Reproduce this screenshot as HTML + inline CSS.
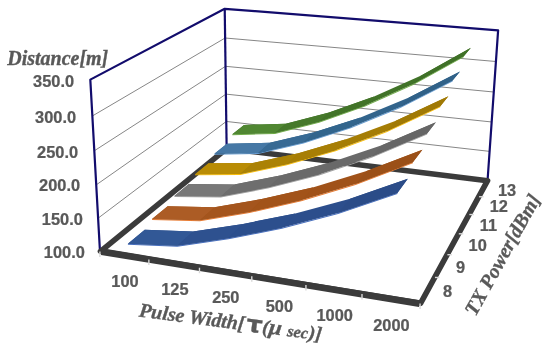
<!DOCTYPE html>
<html><head><meta charset="utf-8"><style>
html,body{margin:0;padding:0;background:#fff}
#c{position:relative;width:550px;height:352px;overflow:hidden;background:#fff}

</style></head><body><div id="c">
<svg width="550" height="352" viewBox="0 0 550 352" style="position:absolute;left:0;top:0;filter:blur(0.35px)">
<polyline points="98.06,218.22 226.27,121.45 489.60,151.37" fill="none" stroke="#868686" stroke-width="1"/>
<polyline points="96.19,184.90 225.89,94.12 491.67,121.98" fill="none" stroke="#868686" stroke-width="1"/>
<polyline points="94.27,150.84 225.51,66.31 493.78,92.03" fill="none" stroke="#868686" stroke-width="1"/>
<polyline points="92.31,116.02 225.11,38.01 495.93,61.51" fill="none" stroke="#868686" stroke-width="1"/>
<polyline points="99.90,250.04 90.31,79.62 224.72,8.80 498.12,30.39 487.57,180.22" fill="none" stroke="#120c6c" stroke-width="2.2" stroke-linejoin="round"/>
<polyline points="224.72,8.80 226.64,147.92" fill="none" stroke="#120c6c" stroke-width="2.2" stroke-linejoin="round"/>
<polygon points="100.49,251.33 420.51,303.33 487.55,180.71 226.91,148.44" fill="none" stroke="#3b3b3b" stroke-width="5.6" stroke-linejoin="round"/>
<line x1="101.49" y1="251.63" x2="419.51" y2="303.63" stroke="#3b3b3b" stroke-width="6.6"/>
<line x1="99.90" y1="251.53" x2="99.90" y2="257.03" stroke="#d8d8d8" stroke-width="1.4"/>
<line x1="148.86" y1="259.49" x2="148.86" y2="264.99" stroke="#d8d8d8" stroke-width="1.4"/>
<line x1="199.47" y1="267.71" x2="199.47" y2="273.21" stroke="#d8d8d8" stroke-width="1.4"/>
<line x1="251.79" y1="276.22" x2="251.79" y2="281.72" stroke="#d8d8d8" stroke-width="1.4"/>
<line x1="305.94" y1="285.01" x2="305.94" y2="290.51" stroke="#d8d8d8" stroke-width="1.4"/>
<line x1="361.99" y1="294.12" x2="361.99" y2="299.62" stroke="#d8d8d8" stroke-width="1.4"/>
<line x1="420.06" y1="303.56" x2="420.06" y2="309.06" stroke="#d8d8d8" stroke-width="1.4"/>
<line x1="434.94" y1="277.48" x2="439.44" y2="277.48" stroke="#d8d8d8" stroke-width="1.4"/>
<line x1="447.39" y1="254.71" x2="451.89" y2="254.71" stroke="#d8d8d8" stroke-width="1.4"/>
<line x1="458.82" y1="233.81" x2="463.32" y2="233.81" stroke="#d8d8d8" stroke-width="1.4"/>
<line x1="469.35" y1="214.54" x2="473.85" y2="214.54" stroke="#d8d8d8" stroke-width="1.4"/>
<line x1="479.09" y1="196.74" x2="483.59" y2="196.74" stroke="#d8d8d8" stroke-width="1.4"/>
<polygon points="232.36,134.17 274.96,132.94 319.07,121.73 365.05,105.47 413.22,84.08 463.99,55.93 463.99,56.93 413.22,85.08 365.05,106.47 319.07,122.73 274.96,133.94 232.36,135.17" fill="#70ad47"/>
<polygon points="232.36,134.17 274.96,132.94 319.07,121.73 365.05,105.47 413.22,84.08 463.99,55.93 470.87,47.82 421.21,75.45 374.07,96.50 329.02,112.55 285.77,123.66 244.01,125.00" fill="#417328"/>
<polygon points="232.36,134.17 244.01,125.00 285.77,123.66 274.96,132.94" fill="#508732"/>
<polygon points="274.96,132.94 285.77,123.66 329.02,112.55 319.07,121.73" fill="#46792b"/>
<polygon points="319.07,121.73 329.02,112.55 374.07,96.50 365.05,105.47" fill="#427428"/>
<polygon points="413.22,84.08 421.21,75.45 470.87,47.82 463.99,55.93" fill="#3f7027"/>
<polygon points="214.39,153.63 258.19,152.93 303.54,142.39 350.83,127.22 400.36,107.10 452.57,80.56 452.57,81.56 400.36,108.10 350.83,128.22 303.54,143.39 258.19,153.93 214.39,154.63" fill="#649bd2"/>
<polygon points="214.39,153.63 258.19,152.93 303.54,142.39 350.83,127.22 400.36,107.10 452.57,80.56 460.00,71.49 408.97,97.56 360.52,117.38 314.22,132.37 269.78,142.84 226.86,143.68" fill="#32648c"/>
<polygon points="214.39,153.63 226.86,143.68 269.78,142.84 258.19,152.93" fill="#4678a5"/>
<polygon points="258.19,152.93 269.78,142.84 314.22,132.37 303.54,142.39" fill="#386a94"/>
<polygon points="303.54,142.39 314.22,132.37 360.52,117.38 350.83,127.22" fill="#32658d"/>
<polygon points="400.36,107.10 408.97,97.56 460.00,71.49 452.57,80.56" fill="#306188"/>
<polygon points="195.12,174.15 240.20,174.04 286.87,164.21 335.54,150.16 386.55,131.30 440.32,106.35 440.32,107.35 386.55,132.30 335.54,151.16 286.87,165.21 240.20,175.04 195.12,175.15" fill="#fabe0a"/>
<polygon points="195.12,174.15 240.20,174.04 286.87,164.21 335.54,150.16 386.55,131.30 440.32,106.35 448.36,96.24 395.86,120.76 345.99,139.35 298.37,153.26 252.66,163.05 208.51,163.34" fill="#a57d05"/>
<polygon points="195.12,174.15 208.51,163.34 252.66,163.05 240.20,174.04" fill="#b98c05"/>
<polygon points="240.20,174.04 252.66,163.05 298.37,153.26 286.87,164.21" fill="#ab8205"/>
<polygon points="286.87,164.21 298.37,153.26 345.99,139.35 335.54,150.16" fill="#a77e05"/>
<polygon points="386.55,131.30 395.86,120.76 448.36,96.24 440.32,106.35" fill="#a07905"/>
<polygon points="174.39,195.89 220.84,196.42 268.91,187.35 319.08,174.44 371.68,156.87 427.13,133.53 427.13,134.53 371.68,157.87 319.08,175.44 268.91,188.35 220.84,197.42 174.39,196.89" fill="#a0a0a0"/>
<polygon points="174.39,195.89 220.84,196.42 268.91,187.35 319.08,174.44 371.68,156.87 427.13,133.53 435.86,122.23 381.76,145.20 330.38,162.55 281.32,175.36 234.28,184.43 188.82,184.12" fill="#696969"/>
<polygon points="174.39,195.89 188.82,184.12 234.28,184.43 220.84,196.42" fill="#787878"/>
<polygon points="220.84,196.42 234.28,184.43 281.32,175.36 268.91,187.35" fill="#6e6e6e"/>
<polygon points="268.91,187.35 281.32,175.36 330.38,162.55 319.08,174.44" fill="#6a6a6a"/>
<polygon points="371.68,156.87 381.76,145.20 435.86,122.23 427.13,133.53" fill="#666666"/>
<polygon points="152.05,219.03 199.94,220.25 249.51,211.99 301.28,200.27 355.59,184.03 412.87,162.30 412.87,163.30 355.59,185.03 301.28,201.27 249.51,212.99 199.94,221.25 152.05,220.03" fill="#e87a30"/>
<polygon points="152.05,219.03 199.94,220.25 249.51,211.99 301.28,200.27 355.59,184.03 412.87,162.30 422.39,149.68 366.55,171.09 313.54,187.17 262.95,198.85 214.47,207.15 167.62,206.18" fill="#a05219"/>
<polygon points="152.05,219.03 167.62,206.18 214.47,207.15 199.94,220.25" fill="#ac5c25"/>
<polygon points="199.94,220.25 214.47,207.15 262.95,198.85 249.51,211.99" fill="#a4551d"/>
<polygon points="249.51,211.99 262.95,198.85 313.54,187.17 301.28,200.27" fill="#a25319"/>
<polygon points="355.59,184.03 366.55,171.09 422.39,149.68 412.87,162.30" fill="#9b5018"/>
<polygon points="127.88,243.74 177.31,245.74 228.48,238.36 281.97,227.87 338.13,213.02 397.39,192.95 397.39,193.95 338.13,214.02 281.97,228.87 228.48,239.36 177.31,246.74 127.88,244.74" fill="#466ebe"/>
<polygon points="127.88,243.74 177.31,245.74 228.48,238.36 281.97,227.87 338.13,213.02 397.39,192.95 407.80,178.84 350.08,198.66 295.32,213.41 243.09,223.91 193.07,231.38 144.75,229.70" fill="#2c4e8c"/>
<polygon points="127.88,243.74 144.75,229.70 193.07,231.38 177.31,245.74" fill="#325896"/>
<polygon points="177.31,245.74 193.07,231.38 243.09,223.91 228.48,238.36" fill="#2e518f"/>
<polygon points="228.48,238.36 243.09,223.91 295.32,213.41 281.97,227.87" fill="#2c4f8d"/>
<polygon points="338.13,213.02 350.08,198.66 407.80,178.84 397.39,192.95" fill="#2b4c88"/>
<text transform="translate(53.6 87.1) scale(1.0 0.97)" font-family="Liberation Sans, sans-serif" font-weight="bold" font-size="16.4" fill="#595959" stroke="#595959" stroke-width="0.25" text-anchor="middle">350.0</text>
<text transform="translate(55.6 123.3) scale(1.0 0.97)" font-family="Liberation Sans, sans-serif" font-weight="bold" font-size="16.4" fill="#595959" stroke="#595959" stroke-width="0.25" text-anchor="middle">300.0</text>
<text transform="translate(57.6 158.2) scale(1.0 0.97)" font-family="Liberation Sans, sans-serif" font-weight="bold" font-size="16.4" fill="#595959" stroke="#595959" stroke-width="0.25" text-anchor="middle">250.0</text>
<text transform="translate(59.6 191.2) scale(1.0 0.97)" font-family="Liberation Sans, sans-serif" font-weight="bold" font-size="16.4" fill="#595959" stroke="#595959" stroke-width="0.25" text-anchor="middle">200.0</text>
<text transform="translate(62.3 225.2) scale(1.0 0.97)" font-family="Liberation Sans, sans-serif" font-weight="bold" font-size="16.4" fill="#595959" stroke="#595959" stroke-width="0.25" text-anchor="middle">150.0</text>
<text transform="translate(64.3 257.8) scale(1.0 0.97)" font-family="Liberation Sans, sans-serif" font-weight="bold" font-size="16.4" fill="#595959" stroke="#595959" stroke-width="0.25" text-anchor="middle">100.0</text>
<text transform="translate(125 286.5) scale(1.0 0.97)" font-family="Liberation Sans, sans-serif" font-weight="bold" font-size="16.4" fill="#595959" stroke="#595959" stroke-width="0.25" text-anchor="middle">100</text>
<text transform="translate(174.9 294.6) scale(1.0 0.97)" font-family="Liberation Sans, sans-serif" font-weight="bold" font-size="16.4" fill="#595959" stroke="#595959" stroke-width="0.25" text-anchor="middle">125</text>
<text transform="translate(225.8 303.3) scale(1.0 0.97)" font-family="Liberation Sans, sans-serif" font-weight="bold" font-size="16.4" fill="#595959" stroke="#595959" stroke-width="0.25" text-anchor="middle">250</text>
<text transform="translate(279.4 311.5) scale(1.0 0.97)" font-family="Liberation Sans, sans-serif" font-weight="bold" font-size="16.4" fill="#595959" stroke="#595959" stroke-width="0.25" text-anchor="middle">500</text>
<text transform="translate(334.7 321.4) scale(1.0 0.97)" font-family="Liberation Sans, sans-serif" font-weight="bold" font-size="16.4" fill="#595959" stroke="#595959" stroke-width="0.25" text-anchor="middle">1000</text>
<text transform="translate(391.4 330.7) scale(1.0 0.97)" font-family="Liberation Sans, sans-serif" font-weight="bold" font-size="16.4" fill="#595959" stroke="#595959" stroke-width="0.25" text-anchor="middle">2000</text>
<text transform="translate(447.5 297.0) scale(1.0 0.97)" font-family="Liberation Sans, sans-serif" font-weight="bold" font-size="16.4" fill="#595959" stroke="#595959" stroke-width="0.25" text-anchor="middle">8</text>
<text transform="translate(460.6 272.9) scale(1.0 0.97)" font-family="Liberation Sans, sans-serif" font-weight="bold" font-size="16.4" fill="#595959" stroke="#595959" stroke-width="0.25" text-anchor="middle">9</text>
<text transform="translate(477.7 250.8) scale(1.0 0.97)" font-family="Liberation Sans, sans-serif" font-weight="bold" font-size="16.4" fill="#595959" stroke="#595959" stroke-width="0.25" text-anchor="middle">10</text>
<text transform="translate(488.5 231.0) scale(1.0 0.97)" font-family="Liberation Sans, sans-serif" font-weight="bold" font-size="16.4" fill="#595959" stroke="#595959" stroke-width="0.25" text-anchor="middle">11</text>
<text transform="translate(498.8 211.9) scale(1.0 0.97)" font-family="Liberation Sans, sans-serif" font-weight="bold" font-size="16.4" fill="#595959" stroke="#595959" stroke-width="0.25" text-anchor="middle">12</text>
<text transform="translate(507.1 195.5) scale(1.0 0.97)" font-family="Liberation Sans, sans-serif" font-weight="bold" font-size="16.4" fill="#595959" stroke="#595959" stroke-width="0.25" text-anchor="middle">13</text>
<text x="7.2" y="65.4" font-family="Liberation Serif, serif" font-weight="bold" font-style="italic" fill="#595959" stroke="#595959" stroke-width="0.35" font-size="20">Distance[m]</text>
<g transform="translate(138.5 316.5) rotate(7.5)" font-family="Liberation Serif, serif" font-weight="bold" font-style="italic" fill="#595959" stroke="#595959" stroke-width="0.35"><text x="0" y="0" font-size="20">Pulse Width[</text><text transform="translate(108.0 0.4) scale(1.1 1)" font-size="23" font-style="normal" font-family="DejaVu Sans, sans-serif">τ</text><text x="124.3" y="0" font-size="19.5">(</text><text transform="translate(130.8 0) scale(1.08 1)" font-size="21.5">μ&#160;</text><text x="149.6" y="0" font-size="16.2">sec</text><text x="171.0" y="0" font-size="19.5">)]</text></g>
<text x="475.5" y="316.9" font-family="Liberation Serif, serif" font-weight="bold" font-style="italic" fill="#595959" stroke="#595959" stroke-width="0.35" font-size="20" transform="rotate(-61 475.5 316.9)">TX Power[dBm]</text>
</svg>

</div></body></html>
